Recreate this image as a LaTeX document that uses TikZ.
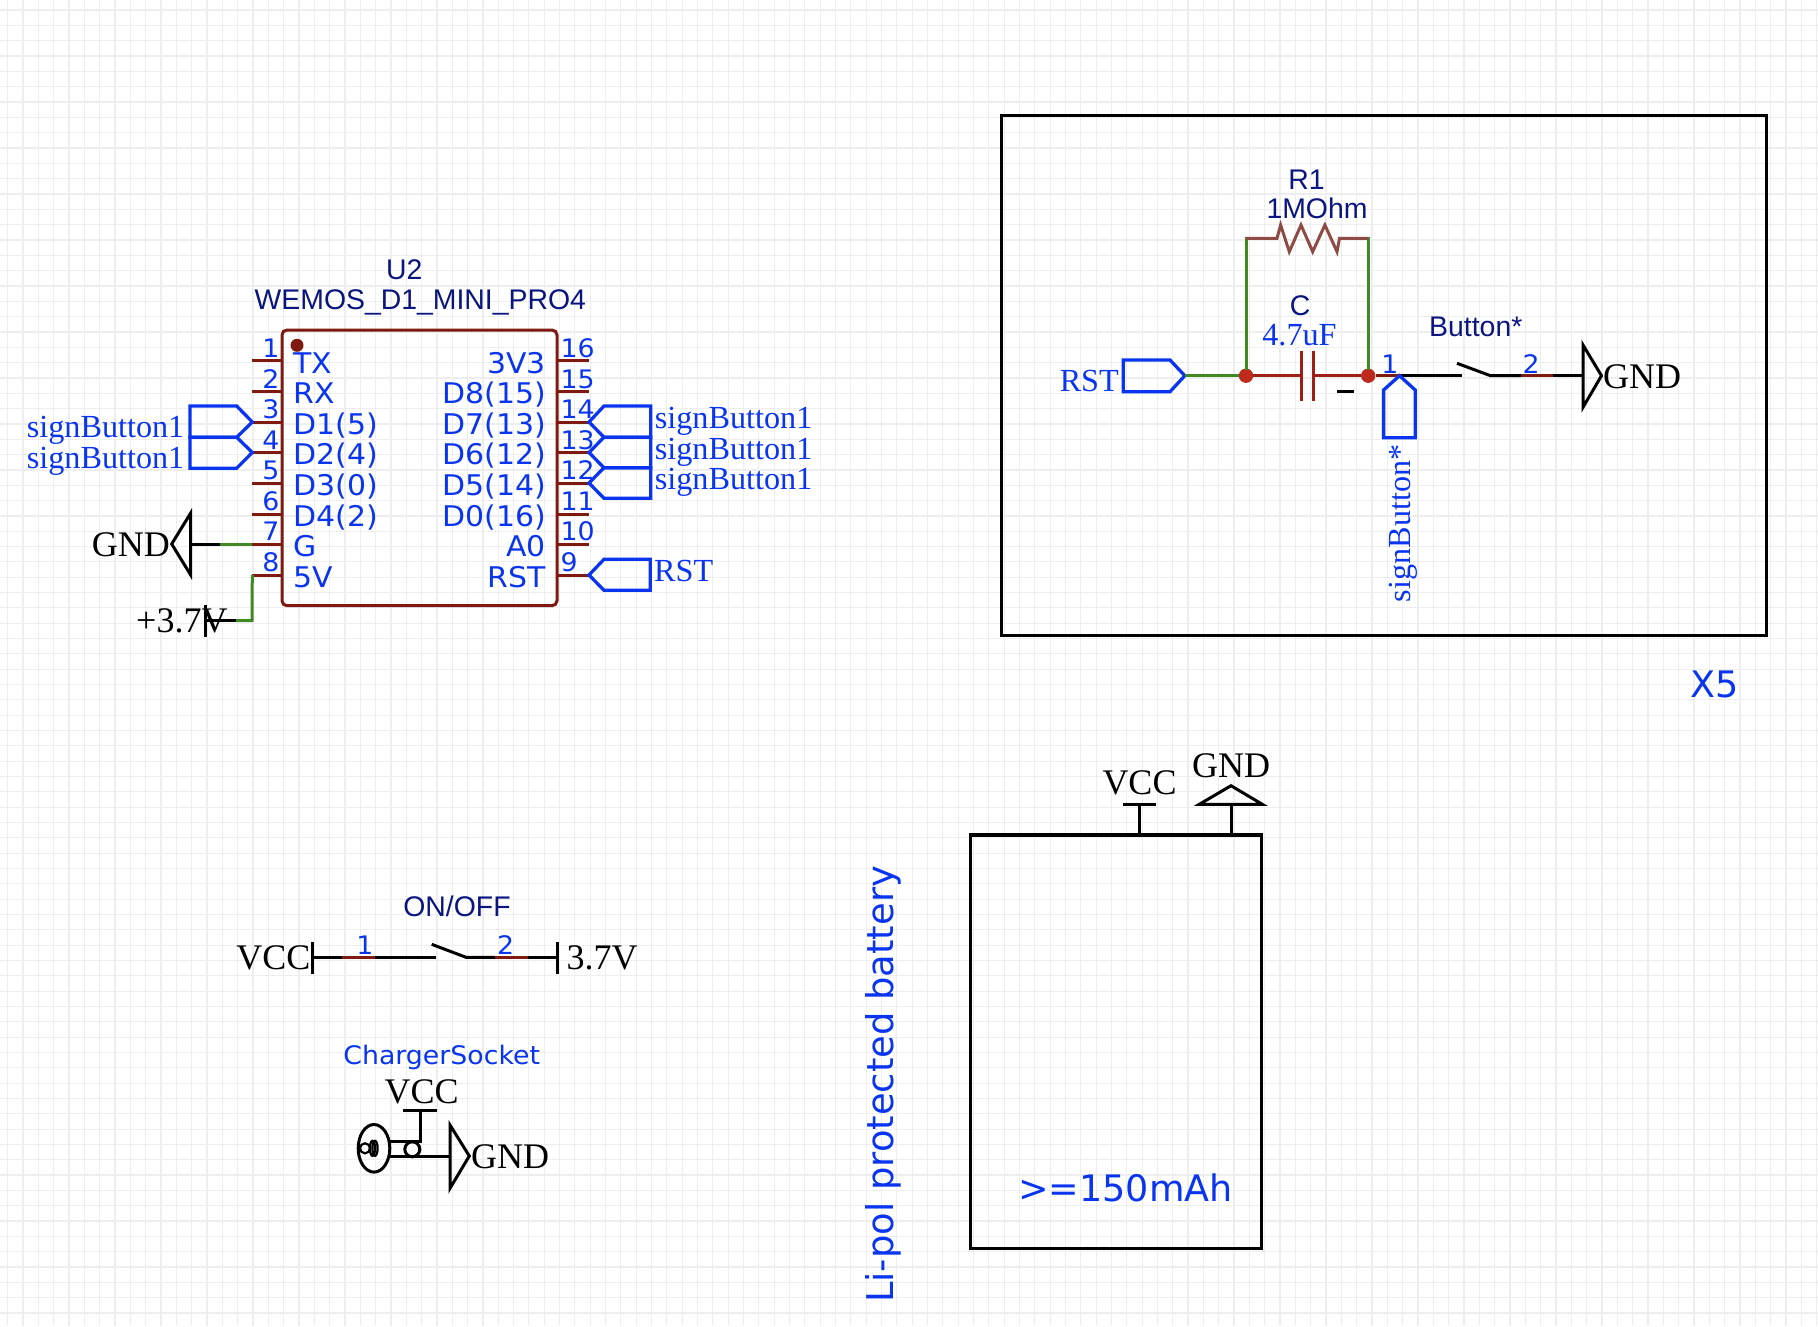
\documentclass[tikz,border=0pt]{standalone}
\usepackage{fontspec}
\setmainfont{Liberation Serif}
\newfontfamily\vfont{DejaVu Sans}
\newfontfamily\pfont[FakeStretch=1.05]{DejaVu Sans}
\newfontfamily\afont{Liberation Sans}
\usetikzlibrary{positioning}

\definecolor{pinred}{HTML}{7F1A10}
\definecolor{capred}{HTML}{9E1F16}
\definecolor{dotred}{HTML}{BE2A1C}
\definecolor{resbrown}{HTML}{8E4A44}
\definecolor{wiregreen}{HTML}{3F8A23}
\definecolor{portblue}{HTML}{0A35F0}
\definecolor{navy}{HTML}{0A1580}
\definecolor{gridline}{HTML}{EEEEEE}

\tikzset{
	every node/.style={inner sep=0pt},
	pin/.style={draw=pinred,line width=3pt},
	net/.style={draw=black,line width=3pt},
	greenwire/.style={draw=wiregreen,line width=3pt},
	capwire/.style={draw=capred,line width=3pt},
	port/.style={draw=portblue,line width=3.3pt,line join=miter},
	junction/.style={circle,fill=dotred,minimum size=14.4pt},
	pinnum/.style={font=\pfont\fontsize{25.5}{27}\selectfont,text=portblue},
	pinname/.style={font=\pfont\fontsize{28.5}{30}\selectfont,text=portblue},
	partname/.style={font=\afont\fontsize{28.4}{30}\selectfont,text=navy},
	netblue/.style={font=\fontsize{32.2}{34}\selectfont,text=portblue},
	netblack/.style={font=\fontsize{36}{38}\selectfont,text=black},
	biglabel/.style={font=\vfont\fontsize{36.5}{38}\selectfont,text=portblue}
}

\begin{document}
\begin{tikzpicture}[x=1pt,y=-1pt]
	\useasboundingbox (0,0) rectangle (1818,1326);
	\fill[white] (0,0) rectangle (1818,1326);
	% grid
	\foreach \k in {0,...,118} {
		\draw[gridline,line width=1.2pt] ({7.67+\k*15.33},0) -- ({7.67+\k*15.33},1326);
	}
	\foreach \k in {0,...,86} {
		\draw[gridline,line width=1.2pt] (0,{10+\k*15.33}) -- (1818,{10+\k*15.33});
	}

	% U2
	\node[partname,anchor=base west] (u2ref) at (386,279) {U2};
	\node[partname,anchor=base] (u2val) at (420.3,309) {WEMOS\_D1\_MINI\_PRO4};
	\draw[pin,rounded corners=5pt] (282,330) rectangle (557,605.7);
	\node[circle,fill=pinred,minimum size=13pt] (u2dot) at (297,345.3) {};
	\foreach \n/\py/\t in {1/360.7/TX,2/391.3/RX,3/422/D1(5),4/452.5/D2(4),5/483/D3(0),6/514/D4(2),7/544/G,8/575/5V} {
		\coordinate (l\n) at (282,\py);
		\coordinate (lo\n) at (252.3,\py);
		\draw[pin] (l\n) -- (lo\n);
		\node[pinnum,anchor=base] (ln\n) at (271,\py-3.2) {\n};
		\node[pinname,anchor=base west] (lt\n) at (293.3,\py+12.4) {\t};
	}
	\foreach \n/\py/\t in {16/360.7/3V3,15/391.3/D8(15),14/422/D7(13),13/452.5/D6(12),12/483/D5(14),11/514/D0(16),10/544/A0,9/575/RST} {
		\coordinate (r\n) at (557,\py);
		\coordinate (ro\n) at (589,\py);
		\draw[pin] (r\n) -- (ro\n);
		\node[pinnum,anchor=base west] (rn\n) at (560.5,\py-3.2) {\n};
		\node[pinname,anchor=base east] (rt\n) at (546,\py+12.4) {\t};
	}

	% ports on U2
	\draw[port] (lo3) -- ++(-15.6,-16) -- ++(-46.7,0) -- ++(0,31.3) -- ++(46.7,0) -- cycle;
	\draw[port] (lo4) -- ++(-15.6,-15.3) -- ++(-46.7,0) -- ++(0,31) -- ++(46.7,0) -- cycle;
	\node[netblue,anchor=base east] (s3) at (184.5,437.5) {signButton1};
	\node[netblue,anchor=base east] (s4) at (184.5,468.1) {signButton1};
	\draw[port] (ro14) -- ++(15,-16) -- ++(46.7,0) -- ++(0,31.3) -- ++(-46.7,0) -- cycle;
	\draw[port] (ro13) -- ++(15,-15.3) -- ++(46.7,0) -- ++(0,30.6) -- ++(-46.7,0) -- cycle;
	\draw[port] (ro12) -- ++(15,-15.3) -- ++(46.7,0) -- ++(0,30.6) -- ++(-46.7,0) -- cycle;
	\draw[port] (ro9) -- ++(15,-15.7) -- ++(46.2,0) -- ++(0,31) -- ++(-46.2,0) -- cycle;
	\node[netblue,anchor=base west] (s14) at (654.7,428) {signButton1};
	\node[netblue,anchor=base west] (s13) at (654.7,459) {signButton1};
	\node[netblue,anchor=base west] (s12) at (654.7,489) {signButton1};
	\node[netblue,anchor=base west] (rstu) at (654,581) {RST};

	% GND and +3.7V on U2
	\coordinate (g1) at (220,544);
	\coordinate (g2) at (190.7,544);
	\draw[greenwire] (lo7) -- (g1);
	\draw[net] (g1) -- (g2);
	\draw[net,line join=miter] (190.7,513) -- (171.7,544) -- (190.7,575) -- cycle;
	\node[netblack,anchor=base east] (gndu) at (170,556) {GND};
	\coordinate (v1) at (252,620.7);
	\coordinate (v2) at (236,620.7);
	\coordinate (v3) at (205.7,620.7);
	\draw[greenwire] (lo8) -- (v1) -- (v2);
	\node[netblack,anchor=base west] (vccu) at (136,632.5) {+3.7V};
	\draw[net] (v2) -- (v3);
	\draw[net] (205.7,605) -- (205.7,637);

	% X5
	\draw[line width=3.3pt] (1001.3,115.7) rectangle (1766.5,635.7);
	\node[biglabel,anchor=base west] (x5) at (1690,697) {X5};
	\node[junction] (ja) at (1246,375.7) {};
	\node[junction] (jb) at (1368.2,375.7) {};
	\coordinate (ra) at (1246,238.3);
	\coordinate (rb) at (1368.2,238.3);
	\coordinate (rsta) at (1184.8,375.7);
	\draw[port] (rsta) -- ++(-14.8,-15.7) -- ++(-46.8,0) -- ++(0,31.7) -- ++(46.8,0) -- cycle;
	\node[netblue,anchor=base east] (rstx) at (1119,391.5) {RST};
	\draw[greenwire] (rsta) -- (ja);
	\draw[greenwire,line cap=rect] (ja) -- (ra);
	\draw[greenwire,line cap=rect] (jb) -- (rb);
	\draw[draw=resbrown,line width=3pt,line join=miter] (ra) -- (1277,238.3) -- (1280.6,225) -- (1289.3,251.7) -- (1301,225) -- (1312.7,251.7) -- (1324.9,225) -- (1337,251.7) -- (1339.5,238.3) -- (rb);
	\node[partname,anchor=base] (r1ref) at (1306.5,189) {R1};
	\node[partname,anchor=base] (r1val) at (1317,218.5) {1MOhm};
	\coordinate (c1) at (1301,375.7);
	\coordinate (c2) at (1313.6,375.7);
	\draw[capwire] (ja) -- (c1);
	\draw[capwire] (c2) -- (jb);
	\draw[capwire] (1301,350.7) -- (1301,401);
	\draw[capwire] (1313.6,350.7) -- (1313.6,401);
	\node[partname,anchor=base] (cref) at (1300,315) {C};
	\node[netblue,anchor=base] (cval) at (1299.5,345) {4.7uF};
	\node[fill=black,minimum width=17.4pt,minimum height=3pt] (cminus) at (1345.7,391) {};

	% Button
	\coordinate (b0) at (1400.8,375.7);
	\coordinate (b1) at (1461.5,375.7);
	\coordinate (b2) at (1490.5,375.7);
	\coordinate (b3) at (1521,375.7);
	\coordinate (b4) at (1552.6,375.7);
	\coordinate (b5) at (1583,375.7);
	\draw[pin] (jb) -- (b0);
	\draw[net] (b0) -- (b1);
	\draw[net] (1457,363.3) -- (b2) -- (b3);
	\draw[pin] (b3) -- (b4);
	\draw[net] (b4) -- (b5);
	\draw[net,line join=miter] (1583,345) -- (1601.5,375.7) -- (1583,407.3) -- cycle;
	\node[netblack,anchor=base west] (gndx) at (1603,388.7) {GND};
	\node[pinnum,anchor=base] (bn1) at (1390,373.5) {1};
	\node[pinnum,anchor=base] (bn2) at (1531,373.5) {2};
	\node[partname,anchor=base west] (bref) at (1429,336.5) {Button*};
	\coordinate (sb) at (1399.5,375.7);
	\draw[port] (sb) -- ++(15.7,14.3) -- ++(0,47.7) -- ++(-31.6,0) -- ++(0,-47.7) -- cycle;
	\node[netblue,rotate=90,anchor=base west] (sbt) at (1410.2,602.2) {signButton*};

	% ON/OFF
	\node[partname,anchor=base] (onref) at (457,916.5) {ON/OFF};
	\coordinate (o0) at (312.3,957.3);
	\coordinate (o1) at (341.7,957.3);
	\coordinate (o2) at (375,957.3);
	\coordinate (o3) at (436,957.3);
	\coordinate (o4) at (466,957.3);
	\coordinate (o5) at (495,957.3);
	\coordinate (o6) at (528.3,957.3);
	\coordinate (o7) at (557.7,957.3);
	\draw[net] (o0) -- (o1);
	\draw[pin] (o1) -- (o2);
	\draw[net] (o2) -- (o3);
	\draw[net] (431.7,944.3) -- (o4) -- (o5);
	\draw[pin] (o5) -- (o6);
	\draw[net] (o6) -- (o7);
	\draw[net] (312.3,941.7) -- (312.3,974);
	\draw[net] (557.7,941.7) -- (557.7,974);
	\node[netblack,anchor=base east] (onvcc) at (310.5,969.3) {VCC};
	\node[netblack,anchor=base west] (on37) at (566.5,969.3) {3.7V};
	\node[pinnum,anchor=base] (onn1) at (365,954) {1};
	\node[pinnum,anchor=base] (onn2) at (505.7,954) {2};

	% ChargerSocket
	\node[font=\pfont\fontsize{25.5}{27}\selectfont,text=portblue,anchor=base] (chref) at (441.7,1064.5) {ChargerSocket};
	\node[netblack,anchor=base] (chvcc) at (421.7,1103.3) {VCC};
	\draw[net] (403.3,1110.3) -- (436.7,1110.3);
	\coordinate (ch1) at (420,1110.3);
	\coordinate (ch2) at (420,1141);
	\coordinate (ch3) at (390,1141);
	\coordinate (ch4) at (390,1156);
	\coordinate (ch5) at (450,1156);
	\draw[net] (ch1) -- (ch2) -- (ch3);
	\draw[net] (ch4) -- (ch5);
	\draw[net,line join=miter] (450,1125) -- (469.3,1156) -- (450,1188.3) -- cycle;
	\draw[net] (374,1148.3) ellipse (15.8 and 23.8);
	\draw[net,line width=2.2pt] (365,1148.3) circle (5);
	\draw[net,line width=2.2pt] (372.5,1148.3) ellipse (2.6 and 7.5);
	\draw[net,line width=2.2pt] (375,1148.3) ellipse (2.6 and 7.5);
	\draw[net,fill=white] (412.3,1149.3) circle (7.5);
	\node[netblack,anchor=base west] (chgnd) at (471,1168.3) {GND};

	% battery
	\draw[net,line width=3.3pt] (970.4,835) rectangle (1261.7,1248.7);
	\coordinate (bt1) at (1139,835);
	\coordinate (bt2) at (1139,804.3);
	\coordinate (bt3) at (1231,835);
	\coordinate (bt4) at (1231,804.3);
	\draw[net] (bt1) -- (bt2);
	\draw[net] (1123.3,804.3) -- (1155.7,804.3);
	\draw[net] (bt3) -- (bt4);
	\draw[net,line join=miter] (1199.3,804.3) -- (1231,785.7) -- (1262.3,804.3) -- cycle;
	\node[netblack,anchor=base] (btvcc) at (1139.5,794.3) {VCC};
	\node[netblack,anchor=base] (btgnd) at (1231,777) {GND};
	\node[biglabel,anchor=base west] (btcap) at (1018,1201.7) {>=150mAh};
	\node[biglabel,font=\vfont\fontsize{36.9}{38}\selectfont,rotate=90,anchor=base west] (btname) at (893.5,1303) {Li-pol protected battery};
\end{tikzpicture}
\end{document}
